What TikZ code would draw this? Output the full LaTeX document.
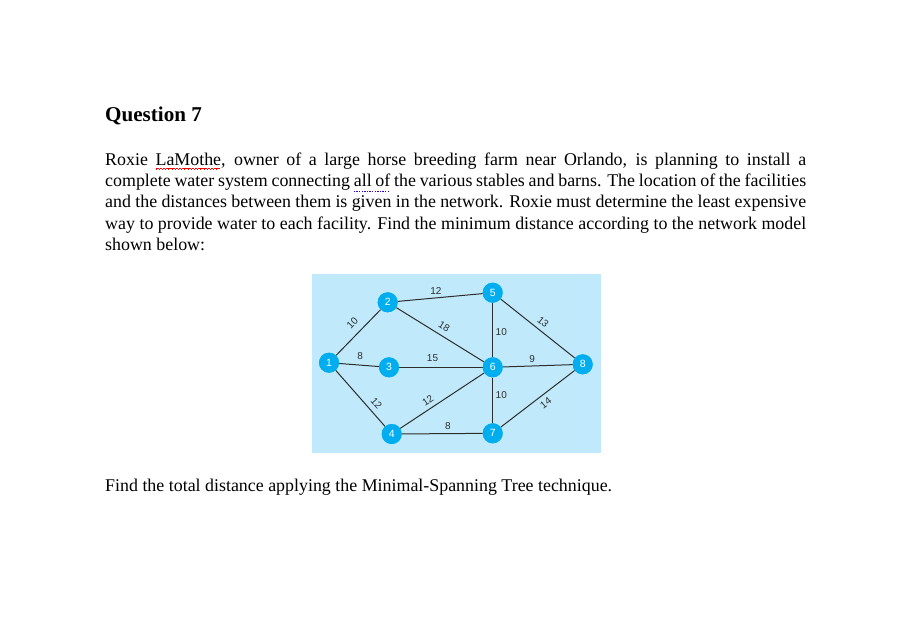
\documentclass[tikz,border=0pt]{standalone}
\usepackage{fontspec}
\setmainfont{Liberation Serif}
\setsansfont{Liberation Sans}
\usetikzlibrary{positioning}

\definecolor{panelblue}{RGB}{192,234,251}
\definecolor{stnblue}{RGB}{0,174,239}
\definecolor{pipegray}{RGB}{45,45,45}

% spell-check style underlines
\newsavebox\ulbox
\newcommand\redwave[1]{\sbox\ulbox{#1}\rlap{\textcolor{red}{\leaders\hbox{\rule[-4.2pt]{0.8pt}{0.7pt}\rule[-3.6pt]{0.8pt}{0.7pt}\rule[-3pt]{0.8pt}{0.7pt}\rule[-3.6pt]{0.8pt}{0.7pt}}\hskip\wd\ulbox}}#1}
\newcommand\bluedots[1]{\sbox\ulbox{#1}\rlap{\textcolor{blue!60!violet}{\leaders\hbox{\rule[-5.5pt]{1.3pt}{1pt}\hspace{1.3pt}}\hskip\wd\ulbox}}#1}
\newcommand\bodyfont{\fontsize{17.9}{21.25}\selectfont}
\newcommand\nohyph{\hyphenpenalty=10000\relax}

\begin{document}
\begin{tikzpicture}[x=1pt,y=-1pt,
  stn/.style={circle,fill=stnblue,text=white,minimum size=20pt,inner sep=0pt,font=\sffamily\fontsize{10.5}{10.5}\selectfont},
  pipe/.style={draw=pipegray,line width=1pt},
  dist/.style={font=\sffamily\fontsize{10}{10}\selectfont,text=pipegray,inner sep=1pt}]

\useasboundingbox (0,0) rectangle (907,638);

% ---- question text ----
\node[anchor=base west,inner sep=0pt,font=\fontsize{21.1}{24}\selectfont\bfseries] (title) at (105,121.7) {Question 7};

\node[anchor=north west,inner sep=0pt,text width=701pt,align=justify,font=\bodyfont] (problem) at (105,150.4)
  {\nohyph\strut Roxie \redwave{LaMothe}, owner of a large horse breeding farm near Orlando, is planning to install a\linebreak
   complete water system connecting \bluedots{all of} the various stables and barns. The location of the facilities\linebreak
   and the distances between them is given in the network. Roxie must determine the least expensive\linebreak
   way to provide water to each facility. Find the minimum distance according to the network model\linebreak
   shown below:};

% ---- the network panel ----
\fill[panelblue] (311.7,274) rectangle (601,452.7);

\foreach \n/\x/\y in {1/329/362.7, 2/387.7/302.3, 3/389/367.3, 4/391.7/434,
                      5/492.7/292.7, 6/492.7/367.3, 7/492.7/433.3, 8/582.7/364.3}{
  \node[stn] (s\n) at (\x,\y) {\n};}

% ---- pipes with their distances ----
\draw[pipe] (s1) -- node[dist,pos=.535,sloped,above=5.5pt] {10} (s2);
\draw[pipe] (s1) -- node[dist,pos=.53,above=4pt] {8} (s3);
\draw[pipe] (s1) -- node[dist,pos=.69,sloped,above=4pt] {12} (s4);
\draw[pipe] (s2) -- node[dist,pos=.45,above=1.5pt] {12} (s5);
\draw[pipe] (s2) -- node[dist,pos=.49,sloped,above=4pt] {18} (s6);
\draw[pipe] (s3) -- node[dist,pos=.40,above=4pt] {15} (s6);
\draw[pipe] (s4) -- node[dist,pos=.38,sloped,above=3pt] {12} (s6);
\draw[pipe] (s4) -- node[dist,pos=.57,above=3pt] {8} (s7);
\draw[pipe] (s5) -- node[dist,pos=.53,right=1.5pt] {10} (s6);
\draw[pipe] (s5) -- node[dist,pos=.50,sloped,above=3.5pt] {13} (s8);
\draw[pipe] (s6) -- node[dist,pos=.39,right=1.5pt] {10} (s7);
\draw[pipe] (s6) -- node[dist,pos=.42,above=1.5pt] {9} (s8);
\draw[pipe] (s7) -- node[dist,pos=.54,sloped,below=3.5pt] {14} (s8);

% redraw stations on top of the pipes
\foreach \n in {1,...,8}{
  \node[stn] at (s\n) {\n};}

% ---- the task ----
\node[anchor=base west,inner sep=0pt,font=\bodyfont] (task) at (105,491.7)
  {Find the total distance applying the Minimal-Spanning Tree technique.};

\end{tikzpicture}
\end{document}
